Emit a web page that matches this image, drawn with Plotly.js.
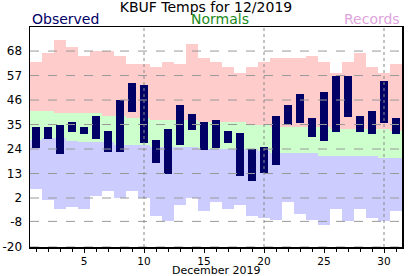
<!DOCTYPE html>
<html>
<head>
<meta charset="utf-8">
<script src="https://cdn.plot.ly/plotly-3.0.1.min.js"></script>
<style>
  html, body { margin: 0; padding: 0; background: #fff; }
  #chart { width: 412px; height: 276px; }
</style>
</head>
<body>
<div id="chart"></div>
<script>
// December 2019, KBUF daily temperatures
const days = Array.from({ length: 31 }, (_, i) => i + 1);

const recordHigh = [63, 67, 73, 70, 66, 68, 68, 66, 62, 62, 61, 63, 62, 71, 65, 63,
    61, 58, 61, 63, 65, 65, 65, 66, 63, 58, 63, 67, 61, 58, 62];
const normalHigh = [41, 41, 40, 40, 40, 40, 39, 39, 38, 38, 37, 37, 37, 37, 36, 36,
    36, 36, 35, 35, 34, 34, 34, 34, 34, 33, 33, 33, 33, 33, 32];
const normalLow = [28, 29, 29, 27.5, 27, 27, 27, 26, 26, 26, 25, 25, 25, 25, 24, 24,
    24, 24, 24, 23, 22, 22, 22, 22, 21, 21, 21, 21, 21, 20, 20];
const recordLow = [6, 1, -3, -2, -3, 3, 5, 2, 5, 2, -6, -8.5, -1, 2, -4, 0,
    -3, -1, -6, -7, -8, 0, -5, -8, -10, -3, -8.5, -3, -7, -8.5, -4];

const obsHigh = [34, 34, 35, 36, 34, 39, 32, 46, 53.5, 52.6, 28, 33, 43.6, 39.6, 36, 37,
    32, 31, 24, 25, 38.7, 43.6, 48.6, 37.8, 49.5, 56.6, 56.6, 38.7, 41, 54.4, 37.8];
const obsLow = [24.3, 28.3, 21.8, 31.6, 30.7, 28.5, 22.6, 22.6, 40.6, 26.7, 17.7, 12.6, 25.7, 32.4, 23.4, 24.3,
    26.6, 11.9, 9.6, 13.3, 16.7, 34.8, 35.5, 29.2, 27.5, 31.5, 38.2, 31.5, 30.6, 35.5, 30.6];

const yTickVals = [-20, -8.5, 2, 13, 24, 35, 46, 57, 68];
const yTickText = ["-20", "-8", "2", "13", "24", "35", "46", "57", "68"];
const xGridDays = [10, 20, 30];

function band(top, bottom, color) {
    return {
        type: "bar",
        x: days,
        y: top.map((v, i) => v - bottom[i]),
        base: bottom,
        width: 1,
        marker: { color: color, line: { width: 0 } },
        hoverinfo: "skip",
    };
}

const traces = [
    band(recordHigh, normalHigh, "#ffcccc"),
    band(normalHigh, normalLow, "#ccffcc"),
    band(normalLow, recordLow, "#ccccff"),
    {
        type: "bar",
        x: days,
        y: obsHigh.map((v, i) => v - obsLow[i]),
        base: obsLow,
        width: 0.66,
        marker: { color: "#000066", line: { width: 0 } },
        hoverinfo: "skip",
    },
];

// grid lines sit above the bars in the original
const shapes = [];
yTickVals.forEach(v => {
    shapes.push({
        type: "line", xref: "paper", yref: "y", x0: 0, x1: 1, y0: v, y1: v,
        line: { color: "#999999", width: 1, dash: "dash" }, layer: "above",
    });
});
xGridDays.forEach(d => {
    shapes.push({
        type: "line", xref: "x", yref: "paper", x0: d, x1: d, y0: 0, y1: 1,
        line: { color: "#888888", width: 1, dash: "dot" }, layer: "above",
    });
});

const font = "DejaVu Sans, Verdana, sans-serif";

const layout = {
    width: 412,
    height: 276,
    margin: { l: 30, r: 10, t: 27, b: 29 },
    paper_bgcolor: "#ffffff",
    plot_bgcolor: "#ffffff",
    barmode: "overlay",
    bargap: 0,
    showlegend: false,
    font: { family: font, color: "#000000" },
    title: {
        text: "KBUF Temps for 12/2019",
        font: { family: font, size: 14, color: "#000000" },
        x: 0.5, xanchor: "center", y: 0.992, yanchor: "top",
    },
    xaxis: {
        range: [0.5, 31.5],
        tick0: 0,
        dtick: 5,
        ticks: "outside",
        ticklen: 4,
        tickcolor: "#000",
        minor: { tick0: 0, dtick: 1, ticks: "outside", ticklen: 3, tickcolor: "#000" },
        showgrid: false,
        zeroline: false,
        showline: true,
        mirror: true,
        linecolor: "#000",
        linewidth: 1.5,
        tickfont: { size: 10.5 },
        layer: "above traces",
    },
    yaxis: {
        range: [-20, 78.8],
        tickmode: "array",
        tickvals: yTickVals,
        ticktext: yTickText,
        ticks: "",
        ticklabelstandoff: 4,
        showgrid: false,
        zeroline: false,
        showline: true,
        mirror: true,
        linecolor: "#000",
        linewidth: 1.5,
        tickfont: { size: 12 },
        layer: "above traces",
    },
    shapes: shapes,
    annotations: [
        { text: "Observed", xref: "paper", yref: "paper", x: 0, y: 1, xanchor: "left", yanchor: "bottom",
          showarrow: false, font: { size: 14, color: "#000066" }, yshift: -2 },
        { text: "Normals", xref: "paper", yref: "paper", x: 0.51, y: 1, xanchor: "center", yanchor: "bottom",
          showarrow: false, font: { size: 14, color: "#1a8a1a" }, yshift: -2 },
        { text: "Records", xref: "paper", yref: "paper", x: 1, y: 1, xanchor: "right", yanchor: "bottom",
          showarrow: false, font: { size: 14, color: "#e0a4dc" }, yshift: -2 },
        { text: "December 2019", xref: "paper", yref: "paper", x: 0.5, y: 0, xanchor: "center", yanchor: "middle",
          showarrow: false, font: { size: 11, color: "#000" }, yshift: -23 },
    ],
};

Plotly.newPlot("chart", traces, layout, { staticPlot: true, displayModeBar: false });
</script>
</body>
</html>
